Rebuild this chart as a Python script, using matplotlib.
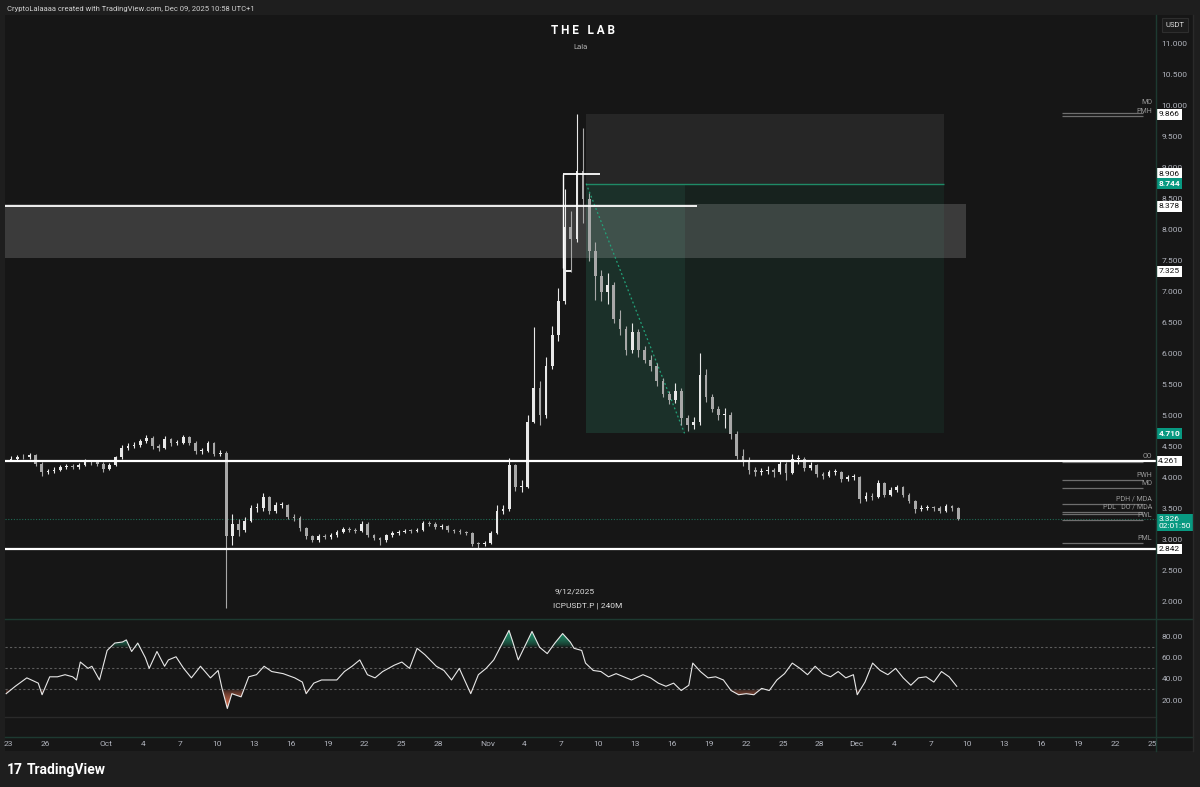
import matplotlib
matplotlib.use('Agg')
import matplotlib.pyplot as plt
from matplotlib.patches import Rectangle, PathPatch
from matplotlib.lines import Line2D
from matplotlib.path import Path
from matplotlib.colors import to_rgb
import numpy as np

plt.rcParams['font.family'] = ['Roboto', 'DejaVu Sans']

# ICPUSDT.P, 12h candles from Sep 23 2025 (day 0)
first_open = 4.28
closes = [4.30, 4.33, 4.32, 4.36, 4.22, 4.08, 4.10, 4.12, 4.16, 4.18,
          4.17, 4.20, 4.26, 4.24, 4.22, 4.13, 4.20, 4.32, 4.48, 4.50,
          4.52, 4.58, 4.64, 4.50, 4.47, 4.62, 4.55, 4.56, 4.65, 4.56,
          4.42, 4.43, 4.55, 4.38, 4.40, 3.05, 3.25, 3.15, 3.30, 3.50,
          3.50, 3.68, 3.45, 3.55, 3.55, 3.36, 3.35, 3.18, 3.05, 2.98,
          3.05, 3.04, 3.06, 3.12, 3.16, 3.15, 3.14, 3.25, 3.06, 3.02,
          2.98, 3.06, 3.10, 3.12, 3.14, 3.13, 3.15, 3.26, 3.25, 3.20,
          3.21, 3.15, 3.13, 3.12, 3.10, 2.93, 2.92, 2.94, 3.10, 3.45,
          3.48, 4.20, 3.85, 3.85, 4.90, 5.45, 5.00, 5.80, 6.30, 6.85,
          8.05, 7.85, 8.95, 8.50, 7.65, 7.25, 7.00, 7.10, 6.55, 6.40,
          6.05, 6.35, 6.05, 5.90, 5.80, 5.55, 5.35, 5.25, 5.40, 4.95,
          4.85, 4.90, 5.65, 5.30, 5.10, 5.00, 5.00, 4.70, 4.35, 4.28,
          4.12, 4.08, 4.10, 4.12, 4.08, 4.22, 4.07, 4.30, 4.30, 4.15,
          4.20, 4.05, 4.02, 4.08, 4.08, 3.97, 4.00, 4.00, 3.65, 3.70,
          3.68, 3.90, 3.72, 3.80, 3.84, 3.72, 3.62, 3.48, 3.50, 3.51,
          3.50, 3.46, 3.53, 3.50, 3.326]
highs = [4.34, 4.36, 4.37, 4.39, 4.37, 4.24, 4.14, 4.16, 4.20, 4.21,
         4.21, 4.23, 4.29, 4.28, 4.27, 4.24, 4.23, 4.35, 4.52, 4.55,
         4.57, 4.62, 4.69, 4.66, 4.53, 4.67, 4.64, 4.60, 4.69, 4.67,
         4.58, 4.47, 4.58, 4.57, 4.44, 4.42, 3.40, 3.33, 3.36, 3.56,
         3.58, 3.74, 3.70, 3.60, 3.60, 3.57, 3.40, 3.37, 3.20, 3.07,
         3.08, 3.08, 3.10, 3.15, 3.20, 3.19, 3.18, 3.30, 3.27, 3.08,
         3.04, 3.09, 3.13, 3.15, 3.17, 3.17, 3.18, 3.29, 3.29, 3.27,
         3.24, 3.23, 3.17, 3.16, 3.14, 3.12, 2.96, 2.97, 3.14, 3.55,
         3.55, 4.31, 4.22, 3.95, 5.00, 6.43, 5.55, 5.95, 6.45, 7.05,
         8.65, 8.30, 9.87, 9.64, 8.60, 7.80, 7.35, 7.30, 7.15, 6.70,
         6.45, 6.50, 6.40, 6.12, 5.98, 5.85, 5.60, 5.40, 5.52, 5.45,
         5.00, 4.98, 6.00, 5.75, 5.35, 5.15, 5.12, 5.05, 4.75, 4.45,
         4.32, 4.16, 4.15, 4.18, 4.15, 4.28, 4.24, 4.38, 4.36, 4.33,
         4.25, 4.22, 4.08, 4.12, 4.14, 4.10, 4.04, 4.05, 4.02, 3.76,
         3.74, 3.96, 3.92, 3.84, 3.88, 3.86, 3.74, 3.64, 3.56, 3.55,
         3.54, 3.53, 3.57, 3.56, 3.52]
lows = [4.26, 4.28, 4.29, 4.30, 4.19, 4.02, 4.05, 4.07, 4.10, 4.13,
        4.13, 4.14, 4.18, 4.20, 4.18, 4.09, 4.11, 4.18, 4.30, 4.44,
        4.47, 4.49, 4.55, 4.46, 4.43, 4.45, 4.51, 4.52, 4.53, 4.52,
        4.38, 4.38, 4.41, 4.34, 4.35, 1.89, 2.90, 3.05, 3.12, 3.27,
        3.44, 3.46, 3.40, 3.42, 3.50, 3.32, 3.30, 3.14, 3.00, 2.95,
        2.96, 3.00, 3.01, 3.04, 3.10, 3.11, 3.10, 3.12, 3.03, 2.98,
        2.90, 2.96, 3.04, 3.07, 3.10, 3.10, 3.11, 3.13, 3.21, 3.17,
        3.17, 3.12, 3.10, 3.09, 3.06, 2.89, 2.86, 2.89, 2.92, 3.08,
        3.40, 3.45, 3.78, 3.77, 3.82, 4.88, 4.85, 4.95, 5.75, 6.20,
        6.80, 7.31, 7.80, 8.10, 7.50, 6.86, 6.85, 6.80, 6.50, 6.30,
        5.98, 6.00, 5.95, 5.85, 5.72, 5.48, 5.30, 5.18, 5.20, 4.85,
        4.74, 4.78, 4.85, 5.22, 5.05, 4.92, 4.80, 4.62, 4.30, 4.18,
        4.05, 4.02, 4.04, 4.06, 4.00, 4.05, 3.95, 4.05, 4.22, 4.10,
        4.12, 4.00, 3.98, 4.00, 4.03, 3.93, 3.94, 3.95, 3.58, 3.62,
        3.64, 3.66, 3.68, 3.70, 3.77, 3.68, 3.58, 3.42, 3.45, 3.47,
        3.46, 3.42, 3.44, 3.46, 3.31]

# RSI pane, (day, value) pairs
rsi_day = [-0.15, 0.59, 1.53, 2.46, 2.77, 3.39, 4.02, 4.64, 5.26, 5.57,
           5.88, 6.51, 6.82, 7.44, 8.06, 8.68, 9.31, 9.62, 10.05, 10.55,
           11.17, 11.48, 12.11, 12.73, 13.04, 13.66, 14.28, 14.91, 15.65, 16.46,
           17.08, 17.40, 17.83, 18.20, 18.95, 19.57, 20.20, 20.82, 21.44, 22.37,
           23.31, 23.93, 24.24, 24.86, 25.49, 26.73, 27.35, 27.97, 28.60, 29.22,
           29.84, 30.46, 31.40, 32.02, 32.64, 33.26, 33.89, 34.82, 35.44, 36.06,
           36.69, 37.31, 37.62, 38.24, 38.87, 39.49, 40.11, 40.73, 41.04, 41.48,
           41.98, 42.60, 43.22, 43.84, 44.46, 45.09, 45.71, 46.02, 46.64, 46.95,
           47.58, 48.20, 48.82, 49.44, 50.07, 50.69, 51.62, 52.24, 52.87, 53.49,
           54.11, 54.73, 55.35, 55.67, 56.29, 56.91, 57.53, 58.16, 58.78, 59.40,
           60.02, 60.64, 61.27, 61.89, 62.51, 63.13, 63.76, 64.38, 65.00, 65.62,
           66.24, 66.87, 67.49, 68.11, 68.73, 69.04, 69.67, 70.29, 70.91, 71.53,
           72.16, 72.78, 73.40, 74.02, 74.64, 75.27, 75.89, 76.51, 77.13]
rsi_val = [26, 33, 41, 36, 25, 42, 42, 44, 42, 39,
           56, 50, 52, 39, 67, 74, 75, 77, 66, 74,
           60, 50, 66, 52, 58, 61, 50, 41, 52, 41,
           48, 31, 12, 26, 23, 42, 44, 52, 47, 45,
           41, 37, 26, 36, 39, 39, 47, 52, 58, 44,
           41, 47, 53, 56, 50, 69, 63, 52, 48, 39,
           50, 34, 26, 44, 50, 58, 72, 86, 75, 58,
           70, 85, 70, 64, 74, 83, 75, 69, 67, 55,
           48, 47, 42, 45, 42, 39, 44, 41, 36, 33,
           36, 29, 34, 55, 47, 41, 42, 39, 29, 25,
           26, 25, 31, 29, 39, 45, 55, 50, 44, 52,
           45, 42, 47, 41, 44, 25, 37, 55, 48, 44,
           50, 41, 34, 41, 42, 37, 47, 42, 33]

tick_days = [0, 3, 8, 11, 14, 17, 20, 23, 26, 29, 32, 35, 39, 42, 45, 48, 51,
             54, 57, 60, 63, 66, 69, 72, 75, 78, 81, 84, 87, 90, 93]
tick_labels = ['23', '26', 'Oct', '4', '7', '10', '13', '16', '19', '22', '25',
               '28', 'Nov', '4', '7', '10', '13', '16', '19', '22', '25', '28',
               'Dec', '4', '7', '10', '13', '16', '19', '22', '25']

# key levels
oo_level = 4.261
low_level = 2.842
res_level = 8.378
zone = (7.54, 8.41)
entry, stop, target = 8.744, 9.866, 4.710
box_top, box_low = 8.906, 7.325
last_price = 3.326
side_levels = [9.89, 9.84, 4.255, 3.956, 3.83, 3.57, 3.44, 3.41, 3.31, 2.94]
side_names = [('MO', 9.99), ('PMH', 9.86), ('OO', 4.275), ('PWH', 3.976),
              ('MO', 3.85), ('PDH / MDA', 3.59), ('PDL   DO / MDA', 3.46),
              ('PWL', 3.33), ('PML', 2.96)]

W, H = 1200, 787
BG = '#161616'
FRAME = '#1e1e1e'
SEP = '#1d3a31'
TXT = '#b2b5be'

fig = plt.figure(figsize=(12, 7.87), dpi=100, facecolor=FRAME)
fig.patches.append(Rectangle((5 / W, 1 - 751 / H), 1188 / W, 736 / H,
                             transform=fig.transFigure, fc=BG, ec='none', zorder=-10))


def px_axes(x0, y0, x1, y1):
    a = fig.add_axes([x0 / W, 1 - y1 / H, (x1 - x0) / W, (y1 - y0) / H])
    a.set_facecolor('none')
    for s in a.spines.values():
        s.set_visible(False)
    return a


def fig_line(x0, y0, x1, y1, color, lw=1.0):
    fig.add_artist(Line2D([x0 / W, x1 / W], [1 - y0 / H, 1 - y1 / H],
                          transform=fig.transFigure, color=color, lw=lw))


def gradient_fill(a, x, y, base, edge, color):
    # fill between base and y, fading from transparent at base to solid at edge
    where = y > base if edge > base else y < base
    coll = a.fill_between(x, base, y, where=where, interpolate=True, color='none', lw=0)
    paths = coll.get_paths()
    if not paths:
        return
    clip = PathPatch(Path.make_compound_path(*paths), transform=a.transData, fc='none', ec='none')
    a.add_patch(clip)
    ramp = np.linspace(0, 1, 256)[:, None]
    img = np.zeros((256, 1, 4))
    img[..., :3] = to_rgb(color)
    img[..., 3] = ramp ** 0.6
    lo_, hi_ = (base, edge) if edge > base else (edge, base)
    if edge < base:
        img = img[::-1]
    im = a.imshow(img, extent=[x_lo, x_hi, lo_, hi_], origin='lower', aspect='auto', zorder=1)
    im.set_clip_path(clip)


x_lo, x_hi = -0.244, 93.33

# ---------------- main price pane ----------------
ax = px_axes(5, 15, 1156, 618)
ax.yaxis.tick_right()
ax.set_yticks(np.arange(2.0, 11.01, 0.5))
ax.set_yticklabels([f'{v:.3f}' for v in np.arange(2.0, 11.01, 0.5)])
ax.set_xticks([])
ax.tick_params(axis='y', length=0, pad=4, labelsize=6, labelcolor=TXT)

# position tool (short)
ax.add_patch(Rectangle((47.0, entry), 29.1, stop - entry, fc='#262626', ec='none', zorder=1))
ax.add_patch(Rectangle((47.0, target), 29.1, entry - target, fc='#17221e', ec='none', zorder=1))
ax.add_patch(Rectangle((47.0, target), 8.0, entry - target, fc='#1b3029', ec='none', zorder=1))
ax.hlines(entry, 47.0, 76.1, color='#1f8a66', lw=1.0, zorder=2)
ax.plot([47.0, 55.0], [entry, target], color='#22a37a', lw=0.9, ls=(0, (1.5, 2)), zorder=2)

# grey supply zone
ax.add_patch(Rectangle((x_lo, zone[0]), 77.9 - x_lo, zone[1] - zone[0],
                       fc='white', alpha=0.16, ec='none', zorder=1.5))

# horizontal levels
ax.axhline(oo_level, color='white', lw=1.6, zorder=4)
ax.axhline(low_level, color='white', lw=1.6, zorder=4)
ax.hlines(res_level, x_lo, 56.0, color='white', lw=1.3, zorder=4)
ax.axhline(last_price, color='#1f6b55', lw=0.8, ls=(0, (1, 1.5)), zorder=2)

# white range box drawn around the top
ax.hlines(box_top, 45.1, 48.1, color='white', lw=1.3, zorder=4)
ax.vlines(45.1, box_low + 0.05, box_top, color='white', lw=1.0, zorder=4)
ax.hlines(box_low, 45.4, 45.8, color='white', lw=1.3, zorder=4)

# candles
c = np.array(closes)
o = np.r_[first_open, c[:-1]]
hi = np.array(highs)
lo = np.array(lows)
t = np.arange(len(c)) * 0.5 + 0.25
up = c >= o
cols = np.where(up, '#e8e8e8', '#a8a8a8')
ax.vlines(t, lo, hi, colors=cols, lw=0.8, zorder=3)
body = np.maximum(np.abs(c - o), 0.015)
ax.bar(t, body, bottom=np.minimum(o, c), width=0.22, color=cols, edgecolor='none', zorder=3)

# right-side level markers
ax.hlines(side_levels, 85.7, 92.3, color='#6e6e6e', lw=0.9, zorder=2)
for name, lvl in side_names:
    ax.text(93.0, lvl, name, ha='right', va='bottom', fontsize=5, color='#9a9a9a', zorder=5)

ax.set_xlim(x_lo, x_hi)
ax.set_ylim(1.727, 11.468)

# price labels on the axis
white_tags = [9.866, box_top, res_level, box_low, oo_level, low_level]
for p in white_tags:
    ax.text(1.002, p, f'{p:.3f}', transform=ax.get_yaxis_transform(), ha='left', va='center',
            fontsize=6, color='#111111', clip_on=False, zorder=6,
            bbox=dict(boxstyle='square,pad=0.28', fc='white', ec='none'))
for p in [entry, target]:
    ax.text(1.002, p, f'{p:.3f}', transform=ax.get_yaxis_transform(), ha='left', va='center',
            fontsize=6, color='white', fontweight='bold', clip_on=False, zorder=6,
            bbox=dict(boxstyle='square,pad=0.28', fc='#089981', ec='none'))
ax.text(1.002, last_price - 0.06, f'{last_price:.3f}\n02:01:50', transform=ax.get_yaxis_transform(),
        ha='left', va='center', fontsize=6, color='white', clip_on=False, zorder=6, linespacing=1.1,
        bbox=dict(boxstyle='square,pad=0.3', fc='#089981', ec='none'))

# ---------------- RSI pane ----------------
axr = px_axes(5, 619, 1156, 717)
axr.yaxis.tick_right()
axr.set_yticks([20, 40, 60, 80])
axr.set_yticklabels(['20.00', '40.00', '60.00', '80.00'])
axr.set_xticks([])
axr.tick_params(axis='y', length=0, pad=4, labelsize=6, labelcolor=TXT)
for lvl in [70, 50, 30]:
    axr.axhline(lvl, color='#5c5c5c', lw=0.8, ls=(0, (2, 2)))
rd = np.array(rsi_day)
rv = np.array(rsi_val, dtype=float)
gradient_fill(axr, rd, rv, 70, 86, '#1f9a72')
gradient_fill(axr, rd, rv, 30, 12, '#e0704f')
axr.plot(rd, rv, color='#e8e8e8', lw=0.8, zorder=3)
axr.set_xlim(x_lo, x_hi)
axr.set_ylim(3.9, 96.8)

# ---------------- time axis ----------------
axt = px_axes(5, 737, 1156, 751)
axt.set_xlim(x_lo, x_hi)
axt.set_ylim(0, 1)
axt.set_xticks([])
axt.set_yticks([])
for d, lab in zip(tick_days, tick_labels):
    axt.text(d, 0.5, lab, ha='center', va='center', fontsize=6, color=TXT, clip_on=False)

# separators
fig_line(5, 618.5, 1193, 618.5, SEP)
fig_line(5, 717, 1156, 717, '#2a2a2a')
fig_line(5, 736.5, 1193, 736.5, SEP)
fig_line(1156, 15, 1156, 751, SEP)
fig_line(1193, 15, 1193, 751, '#2a2a2a')

# texts
fig.text(7 / W, 1 - 9 / H, 'CryptoLalaaaa created with TradingView.com, Dec 09, 2025 10:58 UTC+1',
         ha='left', va='center', fontsize=5.5, color='#d0d0d0')
fig.text(583 / W, 1 - 31 / H, 'T H E   L A B', ha='center', va='center', fontsize=8.5,
         fontweight='bold', color='white')
fig.text(580 / W, 1 - 47 / H, 'Lala', ha='center', va='center', fontsize=5.5, color='#b0b0b0')
fig.text(575 / W, 1 - 591 / H, '9/12/2025', ha='center', va='center', fontsize=6, color='#dddddd')
fig.text(588 / W, 1 - 606 / H, 'ICPUSDT.P | 240M', ha='center', va='center', fontsize=6, color='#dddddd')
fig.text(1175 / W, 1 - 25 / H, 'USDT', ha='center', va='center', fontsize=5.5, color='#dddddd',
         bbox=dict(boxstyle='square,pad=0.5', fc='#1c1c1c', ec='#2e2e2e', lw=0.8))
fig.text(7 / W, 1 - 770 / H, '17', ha='left', va='center', fontsize=10, fontweight='bold', color='white')
fig.text(27 / W, 1 - 770 / H, 'TradingView', ha='left', va='center', fontsize=10,
         fontweight='bold', color='white')

plt.savefig('out.png', dpi=100, facecolor=FRAME)
plt.close()
